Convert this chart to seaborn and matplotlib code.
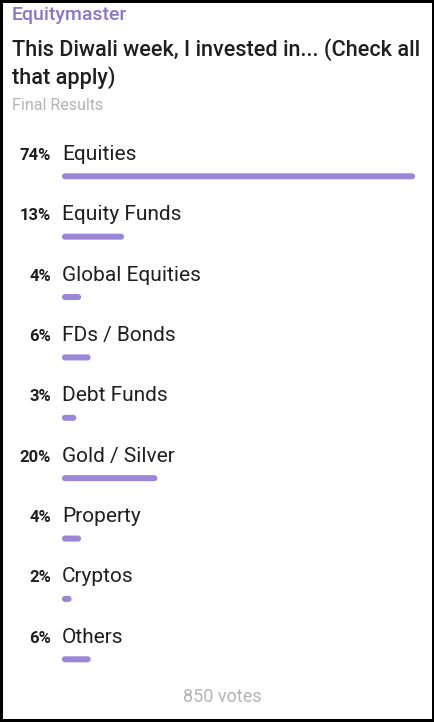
import matplotlib
matplotlib.use("Agg")
import matplotlib.pyplot as plt
import seaborn as sns
import pandas as pd
from matplotlib.patches import FancyBboxPatch

# Poll data
brand = "Equitymaster"
question = "This Diwali week, I invested in... (Check all\nthat apply)"
options = ["Equities", "Equity Funds", "Global Equities", "FDs / Bonds", "Debt Funds",
           "Gold / Silver", "Property", "Cryptos", "Others"]
shares = [74, 13, 4, 6, 3, 20, 4, 2, 6]
total_votes = 850

purple = "#9b86d8"
dark = "#1f1f1f"
grey = "#b4b4b4"

sns.set_theme(style="white")
plt.rcParams["font.family"] = ["Roboto", "DejaVu Sans"]

W, H = 435, 722
fig = plt.figure(figsize=(W / 100, H / 100), dpi=100)
fig.patch.set_facecolor("white")
fig.patch.set_edgecolor("black")
fig.patch.set_linewidth(3)

# -----------------------------
# Header
# -----------------------------
fig.text(12 / W, 1 - 15 / H, brand, color="#8a76c6", fontsize=14, fontweight="medium", va="center")
fig.text(12 / W, 1 - 38 / H, question, color=dark, fontsize=15.6, fontweight="medium",
         va="top", linespacing=1.3)
fig.text(12 / W, 1 - 105 / H, "Final Results", color=grey, fontsize=11.6, va="center")

# -----------------------------
# Bars
# -----------------------------
ax = fig.add_axes([62 / W, 1 - 689.5 / H, 353 / W, 543.4 / H])
df = pd.DataFrame({"option": options, "share": shares})
sns.barplot(data=df, x="share", y="option", orient="h", color=purple, width=0.1,
            saturation=1, ax=ax)
ax.set_xlim(0, max(shares))
ax.set_ylim(len(options) - 0.5, -0.5)
ax.axis("off")

# round the bar ends
fig.canvas.draw()
p0 = ax.transData.transform((0, 0))
p1 = ax.transData.transform((1, 1))
xpx, ypx = abs(p1[0] - p0[0]), abs(p1[1] - p0[1])
aspect = xpx / ypx
for p in list(ax.patches):
    x, y, w, h = p.get_x(), p.get_y(), p.get_width(), p.get_height()
    r = (h * ypx / 2) / xpx
    p.remove()
    ax.add_patch(FancyBboxPatch((x, y), w, h, boxstyle=f"round,pad=0,rounding_size={r}",
                                mutation_aspect=aspect, facecolor=purple, edgecolor="none",
                                clip_on=False))

for i, (name, pct) in enumerate(zip(options, shares)):
    ax.annotate(name, (0, i), xytext=(0, 22), textcoords="offset pixels",
                ha="left", va="center", fontsize=15, color=dark, annotation_clip=False)
    ax.annotate(f"{pct}%", (0, i), xytext=(-11, 21), textcoords="offset pixels",
                ha="right", va="center", fontsize=12, fontweight="bold", color=dark,
                annotation_clip=False)

fig.text(222 / W, 1 - 697 / H, f"{total_votes} votes", color=grey, fontsize=13,
         ha="center", va="center")

fig.savefig("out.png", dpi=100)
